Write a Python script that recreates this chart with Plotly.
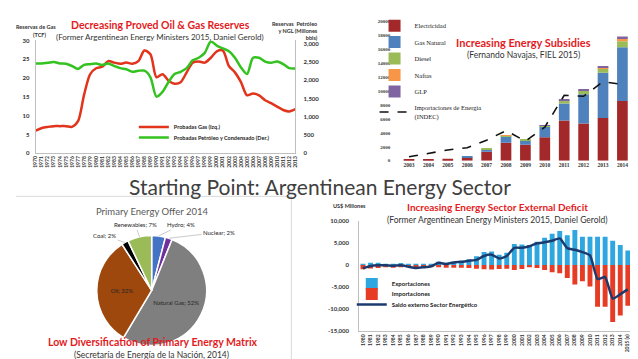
import math
import plotly.graph_objects as go

W, H = 638, 359
def px(x):
    return x / W
def py(y):
    return 1 - y / H

# ---------------- data ----------------
res_years = [str(y) for y in range(1970, 2014)]
gas_tcf = [6.0, 6.7, 7.0, 7.2, 7.2, 7.2, 7.0, 8.5, 15.5, 21.0,
           22.6, 23.0, 24.5, 24.1, 23.8, 24.1, 23.8, 24.5, 27.3, 26.3,
           20.2, 21.0, 19.3, 18.5, 18.9, 21.5, 24.1, 24.4, 24.1, 25.4,
           27.1, 27.3, 23.2, 21.5, 18.9, 15.4, 15.9, 15.4, 14.1, 13.3,
           12.4, 11.5, 11.1, 11.7]
oil_mmbbl = [2460, 2460, 2480, 2500, 2460, 2450, 2390, 2310, 2420, 2440,
             2455, 2420, 2455, 2390, 2330, 2300, 2230, 2260, 2260, 2080,
             1550, 1680, 1950, 2170, 2230, 2330, 2545, 2615, 2750, 3060,
             2950, 2870, 2795, 2615, 2350, 2170, 2615, 2615, 2510, 2480,
             2510, 2440, 2330, 2320]

sub_years = ['2003', '2004', '2005', '2006', '2007', '2008', '2009', '2010',
             '2011', '2012', '2013', '2014']
electricidad = [190, 230, 280, 450, 1300, 2580, 2300, 3370, 5760, 5340, 6140, 8570]
gas_natural = [0, 0, 0, 110, 340, 930, 650, 1550, 2440, 4170, 6460, 7680]
diesel = [0, 0, 0, 0, 90, 120, 90, 100, 370, 470, 560, 850]
naftas = [0, 0, 0, 0, 0, 30, 0, 0, 90, 90, 190, 460]
glp = [0, 0, 0, 0, 0, 0, 0, 40, 140, 190, 230, 240]
import_indec = [560, 1030, 1545, 1870, 2950, 4310, 2810, 4820, 9370, 9230, 11340, 10910]

pie_labels = ['Hydro', 'Nuclear', 'Natural Gas', 'Oil', 'Coal', 'Renewables']
pie_values = [4, 2, 52, 32, 2, 7]
pie_inside = [False, False, True, True, False, False]

ext_years = [str(y) for y in range(1980, 2015)] + ['2015 (e)']
exportaciones = [100, 510, 510, 150, 150, 440, 150, 50, 70, 150,
                 730, 510, 810, 960, 1320, 1980, 2940, 3090, 2350, 2790,
                 4780, 4630, 4560, 5290, 6170, 7060, 7720, 6760, 7940, 6390,
                 6390, 6390, 6390, 5510, 4560, 3310]
importaciones = [-950, -800, -660, -510, -590, -510, -510, -730, -590, -510,
                 -510, -590, -590, -590, -660, -810, -960, -1030, -880, -810,
                 -1100, -880, -510, -660, -1100, -1620, -1840, -2940, -4410, -3680,
                 -4850, -9410, -9410, -12860, -11390, -9190]
saldo = [-730, -220, -70, -70, -150, -70, -370, -660, -510, -290,
         510, 220, 590, 730, 960, 1180, 2060, 2350, 1470, 2060,
         3900, 3900, 4260, 4920, 5150, 5510, 6030, 3820, 3450, 2940,
         2200, -3160, -2720, -7570, -6620, -5510]
ext_ticks = [10000, 5000, 0, -5000, -10000, -15000]
ext_ticktext = ['10,000', '5,000', '0', '-5,000', '-10,000', '-15,000']

# ---------------- styles ----------------
RED_T = '#E31B23'
SANS = 'Lato'
SERIF = 'Liberation Serif'
AX = '#BFBFBF'

# pie placement (pixels)
PIE_CX, PIE_CY, PIE_R = 142, 284, 56

fig = go.Figure()

# chart 1: reserves
fig.add_trace(go.Scatter(x=res_years, y=gas_tcf, mode='lines', name='Probadas Gas (Izq.)',
                         line=dict(color='#E2341D', width=2.5, shape='spline', smoothing=0.8),
                         xaxis='x', yaxis='y', legend='legend'))
fig.add_trace(go.Scatter(x=res_years, y=oil_mmbbl, mode='lines',
                         name='Probadas Petróleo y Condensado (Der.)',
                         line=dict(color='#33C21F', width=2.5, shape='spline', smoothing=0.8),
                         xaxis='x', yaxis='y2', legend='legend2'))

# chart 2: subsidies
sub_series = [('Electricidad', electricidad, '#A3282A'),
              ('Gas Natural', gas_natural, '#4F81BD'),
              ('Diesel', diesel, '#9BBB59'),
              ('Naftas', naftas, '#F79646'),
              ('GLP', glp, '#8064A2')]
for i, (nm, vals, col) in enumerate(sub_series):
    fig.add_trace(go.Bar(x=sub_years, y=vals, name=nm, marker=dict(color=col, line=dict(width=0)),
                         width=0.55, xaxis='x2', yaxis='y3', legend='legend%d' % (i + 3)))
fig.add_trace(go.Scatter(x=sub_years, y=import_indec, mode='lines',
                         name='Importaciones de Energía<br>(INDEC)',
                         line=dict(color='#111111', width=1.6, dash='dash'),
                         xaxis='x2', yaxis='y3', legend='legend8'))

# chart 3: pie
pie_text = ['%s; %d%%' % (l, v) if ins else '' for l, v, ins in zip(pie_labels, pie_values, pie_inside)]
fig.add_trace(go.Pie(labels=pie_labels, values=pie_values, text=pie_text,
                     textinfo='text', sort=False, direction='clockwise', rotation=0,
                     textposition='inside', insidetextorientation='horizontal',
                     marker=dict(colors=['#4472C4', '#7030A0', '#7F7F7F', '#9E480E', '#000000', '#9BBB59'],
                                 line=dict(color='white', width=1.5)),
                     textfont=dict(size=6, color='#262626', family=SANS),
                     domain=dict(x=[px(PIE_CX - PIE_R), px(PIE_CX + PIE_R)],
                                 y=[py(PIE_CY + PIE_R), py(PIE_CY - PIE_R)]),
                     showlegend=False, hoverinfo='label+percent'))

# chart 4: external deficit
fig.add_trace(go.Bar(x=ext_years, y=exportaciones, name='Exportaciones',
                     marker=dict(color='#2EA7E0', line=dict(width=0)), width=0.65,
                     xaxis='x3', yaxis='y4', legend='legend9'))
fig.add_trace(go.Bar(x=ext_years, y=importaciones, name='Importaciones',
                     marker=dict(color='#E63B24', line=dict(width=0)), width=0.65,
                     xaxis='x3', yaxis='y4', legend='legend10'))
fig.add_trace(go.Scatter(x=ext_years, y=saldo, mode='lines', name='Saldo externo Sector Energético',
                         line=dict(color='#1B3A6E', width=2.5, shape='spline', smoothing=0.5),
                         xaxis='x3', yaxis='y4', legend='legend11'))

def leg(xtext, ycen, size=6, family=SANS, weight='bold'):
    return dict(x=px(xtext - 40), y=py(ycen), xanchor='left', yanchor='middle',
                bgcolor='rgba(0,0,0,0)', borderwidth=0,
                font=dict(size=size, family=family, weight=weight, color='#222222'))

legends = {
    'legend': leg(164, 117.3, 5.5),
    'legend2': leg(164, 128, 5.5),
    'legend3': leg(407, 14, 6.5, SERIF, 'normal'),
    'legend4': leg(407, 30.7, 6.5, SERIF, 'normal'),
    'legend5': leg(407, 47.3, 6.5, SERIF, 'normal'),
    'legend6': leg(407, 64.3, 6.5, SERIF, 'normal'),
    'legend7': leg(407, 81, 6.5, SERIF, 'normal'),
    'legend8': leg(407, 102, 6.5, SERIF, 'normal'),
    'legend9': leg(384, 277.3, 6),
    'legend10': leg(384, 287.7, 6),
    'legend11': leg(384, 298.3, 6),
}

tick_b = dict(size=6, family=SANS, weight='bold', color='#333333')
tick_s = dict(size=5, family=SANS, weight='bold', color='#333333')

annotations = []
def ann(text, x, y, size, color='#333333', weight='normal', xanchor='center', family=SANS, align='center'):
    annotations.append(dict(text=text, x=px(x), y=py(y), xref='paper', yref='paper',
                            xanchor=xanchor, yanchor='middle', showarrow=False, align=align,
                            font=dict(size=size, color=color, weight=weight, family=family)))

ann('Decreasing Proved Oil & Gas Reserves', 151, 13, 10.5, RED_T, 'bold')
ann('(Former Argentinean Energy Ministers 2015, Daniel Gerold)', 150, 25, 8, '#333333')
ann('Reservas de Gas', 3, 15, 5.5, '#333333', 'bold', 'left')
ann('(TCF)', 20, 23, 5.5, '#333333', 'bold', 'left')
ann('Reservas  Petróleo<br>y NGL (Millones<br>bbls)', 312, 19, 5.5, '#333333', 'bold', 'right', align='right')

ann('Increasing Energy Subsidies', 517, 31.5, 11, RED_T, 'bold')
ann('(Fernando Navajas, FIEL 2015)', 517, 44, 8.5, '#333333')

ann('Starting Point: Argentinean Energy Sector', 312, 178, 21, '#404040')

ann('Primary Energy Offer 2014', 142, 203, 9.5, '#595959')
ann('Low Diversification of Primary Energy Matrix', 143, 337, 10.5, RED_T, 'bold')
ann('(Secretaría de Energía de la Nación, 2014)', 142, 350, 8.5, '#333333')

ann('US$ Millones', 323, 198, 5.5, '#333333', 'bold', 'left')
ann('Increasing Energy Sector External Deficit', 491, 199, 10, RED_T, 'bold')
ann('(Former Argentinean Energy Ministers 2015, Daniel Gerold)', 491, 212, 8.5, '#333333')

ann('2', 628, 345, 12, '#404040')

# outside pie labels with leader lines, anchored at each slice's mid-angle on the rim
label_offsets = {'Hydro': (22, -11), 'Nuclear': (50, -6), 'Coal': (-20, -7), 'Renewables': (-4, -12)}
total = float(sum(pie_values))
cum = 0.0
for lab, val, ins in zip(pie_labels, pie_values, pie_inside):
    mid = (cum + val / 2.0) / total * 2 * math.pi
    cum += val
    if ins:
        continue
    tx = PIE_CX + PIE_R * math.sin(mid)
    ty = PIE_CY - PIE_R * math.cos(mid)
    ax, ay = label_offsets[lab]
    annotations.append(dict(text='%s; %d%%' % (lab, val), x=px(tx), y=py(ty), xref='paper', yref='paper',
                            showarrow=True, arrowhead=0, arrowwidth=0.6, arrowcolor='#A6A6A6',
                            ax=ax, ay=ay, standoff=0,
                            font=dict(size=6, color='#262626', family=SANS)))

shapes = [
    dict(type='line', xref='paper', yref='paper', x0=px(5), x1=px(283), y0=py(188), y1=py(188),
         line=dict(color='#D9D9D9', width=1)),
    dict(type='line', xref='paper', yref='paper', x0=px(283), x1=px(283), y0=py(188), y1=0,
         line=dict(color='#D9D9D9', width=1)),
]

fig.update_layout(
    width=W, height=H, margin=dict(l=0, r=0, t=0, b=0),
    paper_bgcolor='white', plot_bgcolor='white',
    font=dict(family=SANS, color='#333333'),
    barmode='relative', showlegend=True,
    annotations=annotations, shapes=shapes,
    xaxis=dict(domain=[px(25), px(287)], anchor='y', type='category', tickangle=-90,
               tickfont=tick_s, showline=True, linecolor=AX, linewidth=1, ticks='', showgrid=False),
    yaxis=dict(domain=[py(144), py(29)], anchor='x', range=[0, 30], dtick=5, showgrid=False,
               showline=True, linecolor=AX, zeroline=False, tickfont=tick_b, ticklabelstandoff=4),
    yaxis2=dict(overlaying='y', side='right', anchor='x', range=[0, 3090], dtick=500, tickformat=',',
                showgrid=False, showline=True, linecolor=AX, zeroline=False, tickfont=tick_b,
                ticklabelstandoff=6),
    xaxis2=dict(domain=[px(392), px(627)], anchor='y3', type='category', showgrid=False,
                showline=False, ticks='',
                tickfont=dict(size=5.5, family=SERIF, weight='bold', color='#333333')),
    yaxis3=dict(domain=[py(151.7), py(9.3)], anchor='x2', range=[0, 20000], dtick=2000,
                tickformat='d', showgrid=False, zeroline=False, showline=False,
                tickfont=dict(size=5, family=SERIF, weight='bold', color='#333333'),
                ticklabelstandoff=8),
    xaxis3=dict(domain=[px(351.5), px(626.5)], anchor='y4', type='category', tickangle=-90,
                tickfont=tick_s, showline=True, linecolor=AX, ticks='', showgrid=False),
    yaxis4=dict(domain=[py(325.7), py(213)], anchor='x3', range=[-15000, 10000],
                tickvals=ext_ticks, ticktext=ext_ticktext, showgrid=False, zeroline=False,
                showline=True, linecolor=AX, tickfont=tick_b, ticklabelstandoff=8),
    **legends,
)

fig.write_html('out.html')
